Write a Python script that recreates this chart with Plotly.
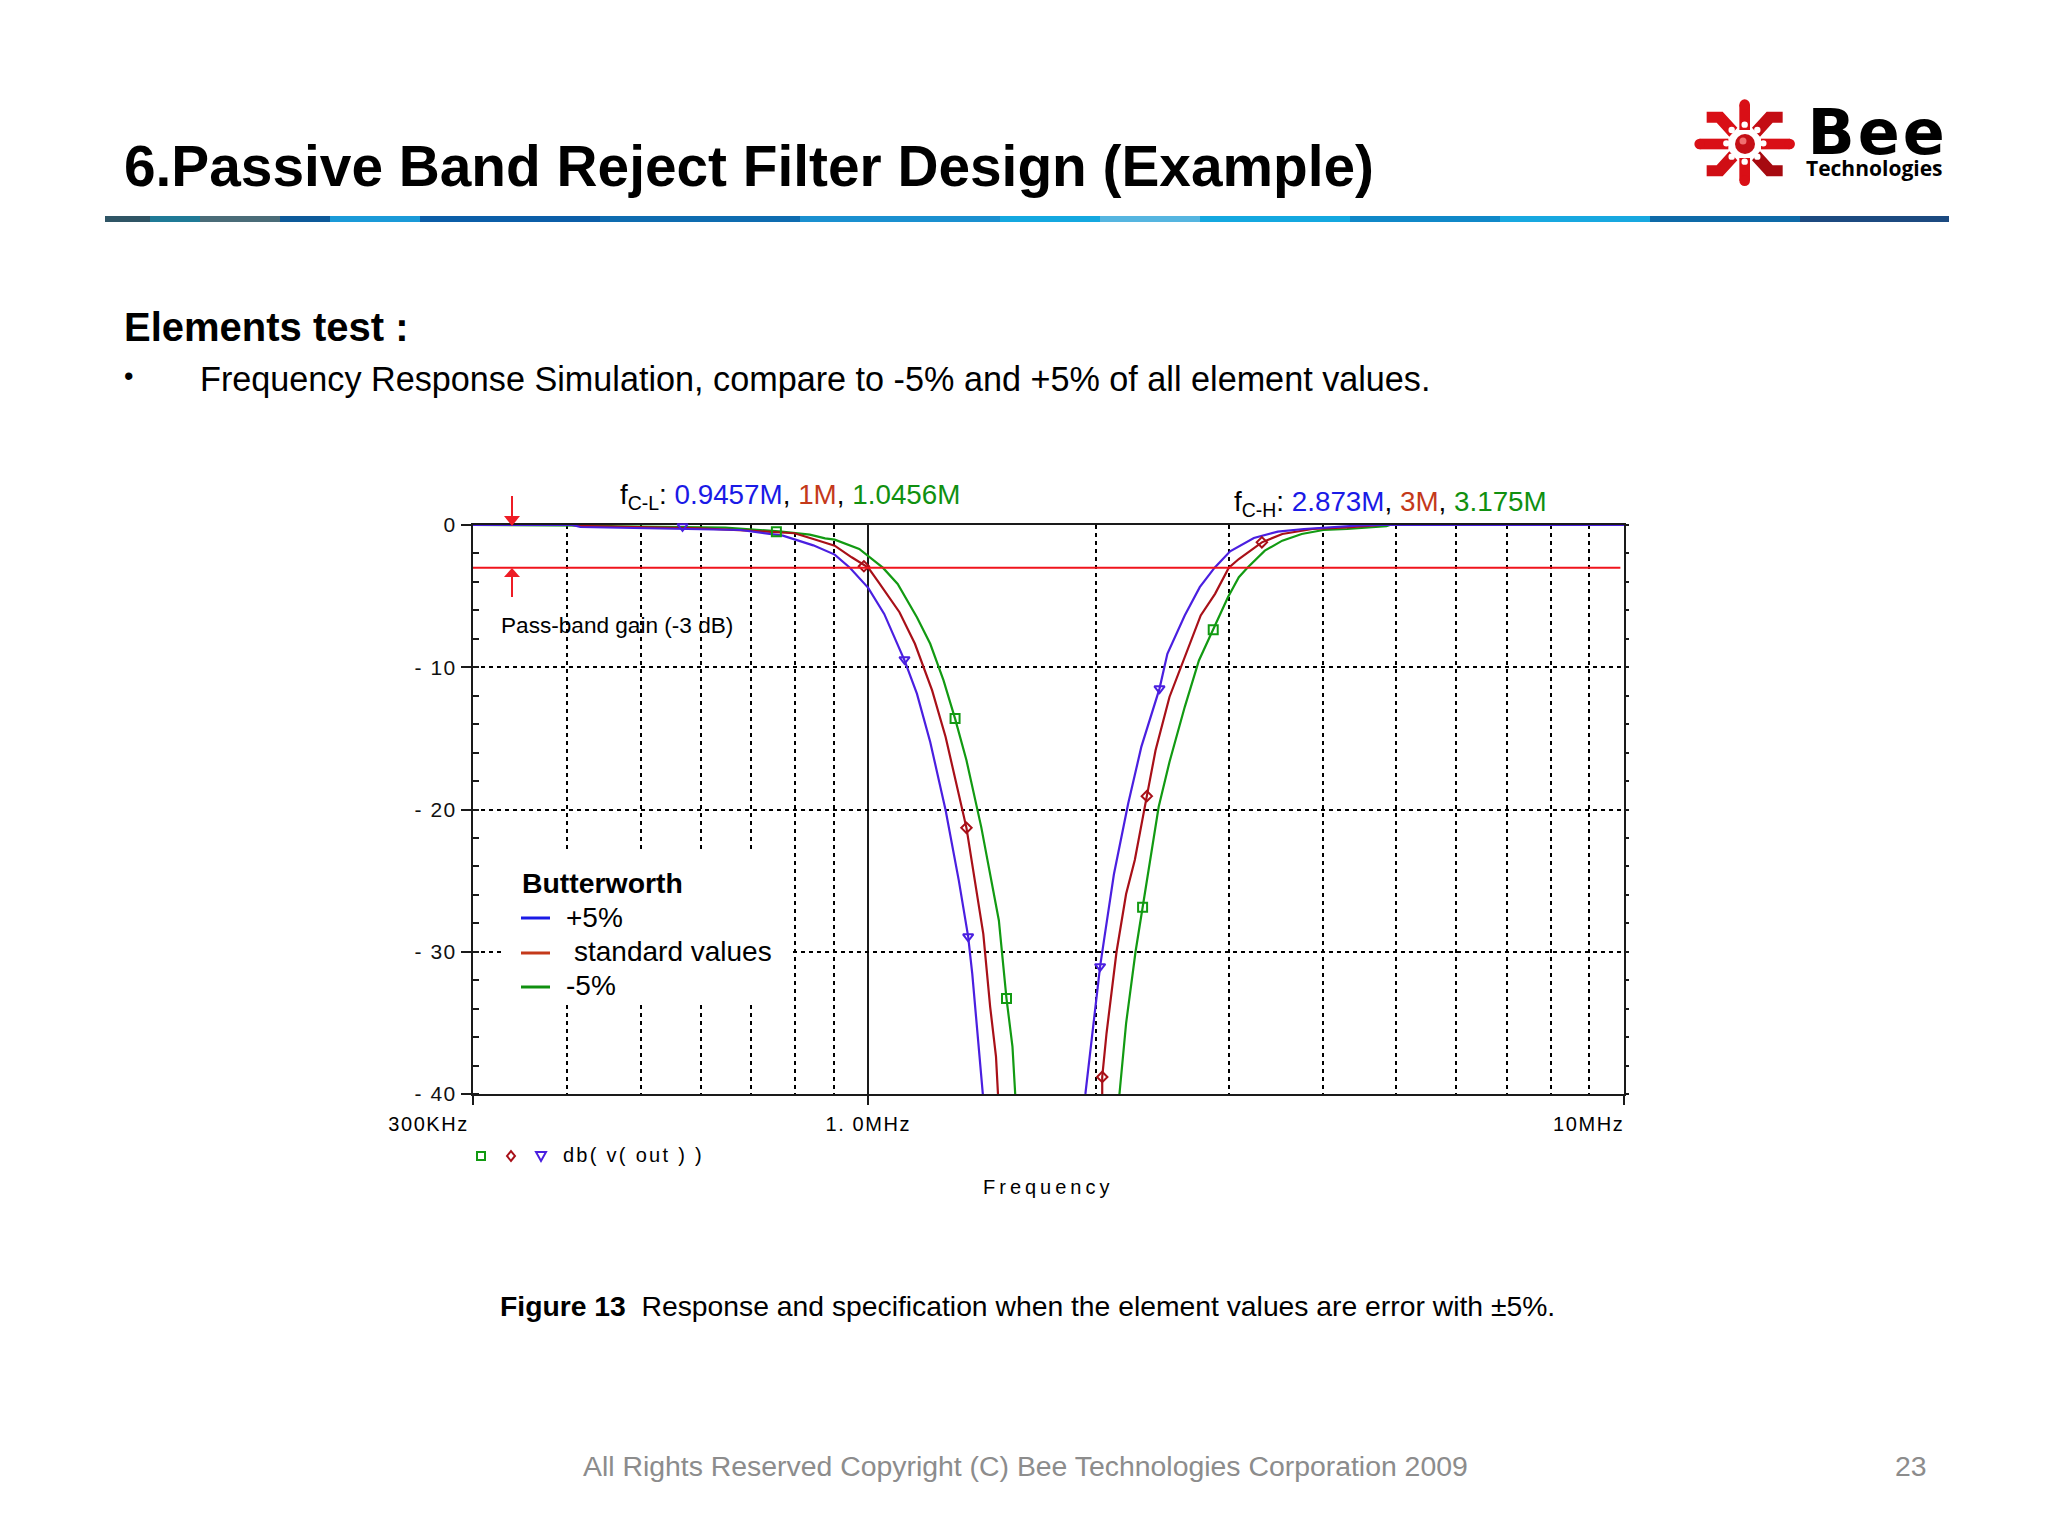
import plotly.graph_objects as go

# ---------- data (frequency in MHz, gain in dB) ----------
plus5_f = [0.3,0.406,0.416,0.597,0.678,0.771,0.846,0.903,0.9457,1.0,1.05,1.117,1.16,1.208,1.266,1.318,1.356,1.373,1.392,1.418]
plus5_db = [0,0,-0.14,-0.28,-0.35,-0.75,-1.43,-2.08,-3.0,-4.42,-6.25,-9.52,-11.86,-15.25,-20.05,-25.0,-28.93,-31.54,-35.03,-40]
plus5_rf = [1.938,1.995,2.027,2.054,2.114,2.208,2.298,2.429,2.488,2.623,2.746,2.873,3.012,3.238,3.483,3.771,4.303,4.478,4.783,10]
plus5_rdb = [-40,-34.3,-31.03,-28.97,-24.55,-19.58,-15.6,-11.5,-9.05,-6.36,-4.37,-3.0,-1.85,-0.91,-0.47,-0.28,-0.09,-0.03,0,0]

std_f = [0.3,0.405,0.42,0.597,0.695,0.799,0.846,0.903,0.951,1.0,1.032,1.1,1.153,1.215,1.266,1.349,1.42,1.45,1.476,1.485]
std_db = [0,0,-0.07,-0.23,-0.4,-0.58,-0.98,-1.45,-2.27,-3.0,-4.02,-6.13,-8.35,-11.63,-14.9,-21.29,-28.74,-33.87,-37.37,-40]
std_rf = [2.04,2.04,2.067,2.103,2.131,2.194,2.253,2.337,2.4,2.504,2.623,2.754,2.877,2.973,3.0,3.093,3.318,3.531,3.872,4.303,4.538,4.783,10]
std_rdb = [-40,-38.8,-35.73,-32.47,-30,-25.94,-23.55,-19.06,-15.84,-12.09,-9.29,-6.36,-4.84,-3.44,-3.0,-2.39,-1.22,-0.63,-0.28,-0.16,-0.09,0,0]

minus5_f = [0.3,0.42,0.435,0.467,0.647,0.762,0.837,0.877,0.903,0.973,1.0456,1.094,1.16,1.208,1.258,1.303,1.349,1.411,1.489,1.524,1.552,1.565]
minus5_db = [0,0,-0.05,-0.09,-0.19,-0.44,-0.68,-0.94,-1.03,-1.68,-3.0,-4.14,-6.48,-8.35,-10.92,-13.61,-16.54,-21.22,-27.8,-33.29,-36.67,-40]
minus5_rf = [2.15,2.194,2.258,2.307,2.36,2.423,2.504,2.623,2.739,2.858,2.992,3.093,3.175,3.348,3.531,3.746,4.002,4.303,4.567,4.848,4.9,10]
minus5_rdb = [-40,-35.03,-30,-26.88,-23.61,-19.81,-16.66,-12.8,-9.52,-7.42,-5.08,-3.67,-3.0,-1.8,-1.1,-0.63,-0.35,-0.28,-0.16,-0.09,0,0]

plus5_mark_f = [0.568,1.117,1.356,2.429,2.027]
plus5_mark_db = [-0.1,-9.45,-28.93,-11.5,-31.03]
std_mark_f = [0.987,1.349,2.337,2.04,3.318]
std_mark_db = [-2.9,-21.29,-19.06,-38.8,-1.22]
minus5_mark_f = [0.756,1.303,1.524,2.861,2.307]
minus5_mark_db = [-0.47,-13.61,-33.29,-7.37,-26.88]

passband_f = [0.3,9.89]
passband_db = [-3,-3]

x_major = [0.3,1,10]
x_minor = [0.4,0.5,0.6,0.7,0.8,0.9,2,3,4,5,6,7,8,9]
y_ticks = [0,-10,-20,-30,-40]
y_labels = ["0","- 10","- 20","- 30","- 40"]

BLUE, RED, GREEN = "#4a1fe0", "#a81018", "#129a12"
L, R, T, B = 473, 1624, 525, 1094
ARIAL = "Liberation Sans"

def px(x): return (x - L) / (R - L)
def py(y): return (B - y) / (B - T)

anns, shapes = [], []

def label(text, x, y, size, color="#000000", anchor="left"):
    anns.append(dict(text=text, x=px(x), y=py(y), xref="paper", yref="paper", showarrow=False,
                     xanchor=anchor, yanchor="middle", align=anchor,
                     font=dict(family=ARIAL, size=size, color=color)))

def poly(points, color, width=0, line=None, layer="above"):
    d = "M " + " L ".join(f"{px(a):.5f},{py(b):.5f}" for a, b in points) + " Z"
    shapes.append(dict(type="path", path=d, xref="paper", yref="paper", layer=layer,
                       fillcolor=color, line=dict(width=width, color=line or color)))

def seg(x0, y0, x1, y1, color, width=2):
    shapes.append(dict(type="line", x0=px(x0), y0=py(y0), x1=px(x1), y1=py(y1),
                       xref="paper", yref="paper", line=dict(color=color, width=width)))

def disc(cx, cy, r, color):
    shapes.append(dict(type="circle", x0=px(cx-r), x1=px(cx+r), y0=py(cy-r), y1=py(cy+r),
                       xref="paper", yref="paper", fillcolor=color, line=dict(width=0)))

# ---------- slide header ----------
label("<b>6.Passive Band Reject Filter Design (Example)</b>", 122, 166, 56.8)
label("<b>Elements test :</b>", 122, 327, 40)
label("•", 122, 376, 27)
label("Frequency Response Simulation, compare to -5% and +5% of all element values.", 198, 379, 34.2)

rule_x = [105,150,200,280,330,420,600,800,1000,1100,1200,1350,1500,1650,1800,1949]
rule_c = ["#2f5565","#1f7a96","#4a6c78","#0d5a9a","#1a9ad8","#0b5ea8","#0e6cb0","#1a90d0","#14a8e0","#55b5e0",
          "#14a8e0","#1088c8","#18a8e0","#0e6aa8","#1c4a80"]
for i, c in enumerate(rule_c):
    shapes.append(dict(type="rect", x0=px(rule_x[i]), x1=px(rule_x[i+1]), y0=py(216), y1=py(222),
                       xref="paper", yref="paper", fillcolor=c, line=dict(width=0)))

# ---------- logo ----------
LX, LY = 1745, 144
LOGO = "#d90f16"
def lz(a, b): return (1660 + a / 3, 80 + b / 3)
arm = [(140,95),(188,95),(232,143),(208,170),(170,128),(140,128)]
for fx, fy, col in [(1,1,LOGO),(-1,1,"#c40d14"),(1,-1,"#d00e15"),(-1,-1,"#a60a10")]:
    poly([lz(254 + fx*(a-254), 192 + fy*(b-192)) for a, b in arm], col)
for (a0, a1, b0, b1) in [(238,270,74,150),(238,270,234,302),(119,205,176,208),(303,389,176,208)]:
    shapes.append(dict(type="rect", x0=px(lz(a0,0)[0]), x1=px(lz(a1,0)[0]), y0=py(lz(0,b0)[1]), y1=py(lz(0,b1)[1]),
                       xref="paper", yref="paper", fillcolor=LOGO, line=dict(width=0)))
for (a, b) in [(254,74),(254,302),(119,192),(389,192)]:
    disc(*lz(a, b), 5.3, LOGO)
for (a, b) in [(254,134),(254,245),(199,190),(310,190),(215,150),(292,150),(215,230),(292,230)]:
    disc(*lz(a, b), 3.2, "#ffffff")
disc(LX, LY, 10, "#c40f16")
disc(LX - 2, LY - 3, 3.5, "#f07070")
anns.append(dict(text="<b>Bee</b>", x=px(1877), y=py(132), xref="paper", yref="paper", showarrow=False,
                 xanchor="center", yanchor="middle", font=dict(family="DejaVu Sans", size=62, color="#000000")))
anns.append(dict(text="<b>Technologies</b>", x=px(1875), y=py(168), xref="paper", yref="paper", showarrow=False,
                 xanchor="center", yanchor="middle", font=dict(family="Open Sans", size=21, color="#000000")))

# ---------- chart mask behind the legend, arrows, legend keys ----------
shapes.append(dict(type="rect", x0=px(503), x1=px(793), y0=py(849), y1=py(1005), xref="paper", yref="paper",
                   fillcolor="#ffffff", line=dict(width=0)))
ARROW = "#ee1c25"
seg(512, 496, 512, 516, ARROW, 2)
poly([(504,516),(520,516),(512,526)], ARROW)
seg(512, 577, 512, 597, ARROW, 2)
poly([(504,577),(520,577),(512,568)], ARROW)
seg(521, 918, 550, 918, "#1a1ae6", 3)
seg(521, 953, 550, 953, "#c4391a", 3)
seg(521, 987, 550, 987, "#109010", 3)

# marker key under the axis
shapes.append(dict(type="rect", x0=px(477), x1=px(485), y0=py(1152), y1=py(1160), xref="paper", yref="paper",
                   line=dict(color=GREEN, width=2)))
poly([(511,1151),(515,1156),(511,1161),(507,1156)], "rgba(0,0,0,0)", 2, RED)
poly([(536,1152),(546,1152),(541,1161)], "rgba(0,0,0,0)", 2, BLUE)

# ---------- chart labels ----------
label("Pass-band gain (-3 dB)", 499, 625, 22.6)
label("<b>Butterworth</b>", 520, 883, 28.4)
label("+5%", 564, 917, 28)
label("standard values", 572, 951, 28)
label("-5%", 564, 985, 28)
label("f<sub>C-L</sub>: <span style='color:#1a1ae6'>0.9457M</span>, <span style='color:#c4391a'>1M</span>, "
      "<span style='color:#109010'>1.0456M</span>", 618, 496, 27.8)
label("f<sub>C-H</sub>: <span style='color:#1a1ae6'>2.873M</span>, <span style='color:#c4391a'>3M</span>, "
      "<span style='color:#109010'>3.175M</span>", 1232, 503, 27.8)
label("300KHz", 428, 1124, 20, anchor="center")
label("1. 0MHz", 868, 1124, 20, anchor="center")
label("10MHz", 1588, 1124, 20, anchor="center")
label("db( v( out ) )", 633, 1155, 20, anchor="center")
label("Frequency", 1048, 1187, 20, anchor="center")
label("<b>Figure 13</b>  Response and specification when the element values are error with ±5%.", 498, 1306, 28.3)
label("All Rights Reserved Copyright (C) Bee Technologies Corporation 2009", 581, 1466, 28.4, "#8c8c8c")
label("23", 1893, 1466, 28.4, "#8c8c8c")

# ---------- traces ----------
fig = go.Figure()
def curve(x, y, color, name):
    fig.add_trace(go.Scatter(x=x, y=y, mode="lines", name=name, cliponaxis=False,
                             line=dict(color=color, width=2.2)))
def marks(x, y, color, symbol, name, size=8):
    fig.add_trace(go.Scatter(x=x, y=y, mode="markers", name=name, cliponaxis=False,
                             marker=dict(symbol=symbol, size=size, color=color, line=dict(color=color, width=2))))

fig.add_trace(go.Scatter(x=passband_f, y=passband_db, mode="lines", name="-3 dB", yaxis="y2",
                         line=dict(color="#f0141c", width=2)))
curve(minus5_f, minus5_db, GREEN, "-5%")
curve(minus5_rf, minus5_rdb, GREEN, "-5%")
curve(std_f, std_db, RED, "standard values")
curve(std_rf, std_rdb, RED, "standard values")
curve(plus5_f, plus5_db, BLUE, "+5%")
curve(plus5_rf, plus5_rdb, BLUE, "+5%")
marks(minus5_mark_f, minus5_mark_db, GREEN, "square-open", "-5% marks", 9)
marks(std_mark_f, std_mark_db, RED, "diamond-open", "standard marks", 8)
marks(plus5_mark_f, plus5_mark_db, BLUE, "triangle-down-open", "+5% marks", 9)

AX = "#1a1a1a"
fig.update_layout(
    width=2048, height=1536, showlegend=False, paper_bgcolor="#ffffff", plot_bgcolor="#ffffff",
    margin=dict(l=L, r=2048-R, t=T, b=1536-B, autoexpand=False),
    annotations=anns, shapes=shapes,
    xaxis=dict(type="log", range=[-0.52288, 1], tickmode="array", tickvals=x_major, showticklabels=False,
               ticks="outside", ticklen=9, tickwidth=2, tickcolor=AX, layer="below traces",
               showline=True, linecolor=AX, linewidth=2, mirror=True,
               showgrid=True, gridcolor=AX, gridwidth=1.5, zeroline=False,
               minor=dict(tickmode="array", tickvals=x_minor, ticks="", showgrid=True,
                          gridcolor="#000000", gridwidth=2, griddash="4px,4px")),
    yaxis=dict(range=[-40, 0], tickmode="array", tickvals=y_ticks, ticktext=y_labels,
               ticks="outside", ticklen=10, tickwidth=2, tickcolor=AX, layer="below traces",
               tickfont=dict(family=ARIAL, size=21, color="#111111"),
               showline=True, linecolor=AX, linewidth=2, zeroline=False,
               showgrid=True, gridcolor="#000000", gridwidth=2, griddash="4px,4px",
               minor=dict(dtick=2, ticks="inside", ticklen=6, tickwidth=2, tickcolor=AX, showgrid=False)),
    yaxis2=dict(range=[-40, 0], overlaying="y", side="right", tickmode="array", tickvals=[-40,0],
                showticklabels=False, ticks="",
                showline=True, linecolor=AX, linewidth=2, zeroline=False, showgrid=False,
                minor=dict(dtick=2, ticks="outside", ticklen=3, tickwidth=2, tickcolor=AX, showgrid=False)),
)

post = """
document.body.style.margin='0';
document.documentElement.style.overflow='hidden';
var spaced={'300KHz':'1.6px','1. 0MHz':'1.6px','10MHz':'1.6px','db( v( out ) )':'2.3px','Frequency':'4px','Bee':'3px'};
document.querySelectorAll('text').forEach(function(t){
  if(spaced[t.textContent]) t.style.letterSpacing=spaced[t.textContent];
});
document.querySelectorAll('.ytick text').forEach(function(t){t.style.letterSpacing='1.5px';});
"""
fig.write_html("out.html", post_script=post, config={"displayModeBar": False})
